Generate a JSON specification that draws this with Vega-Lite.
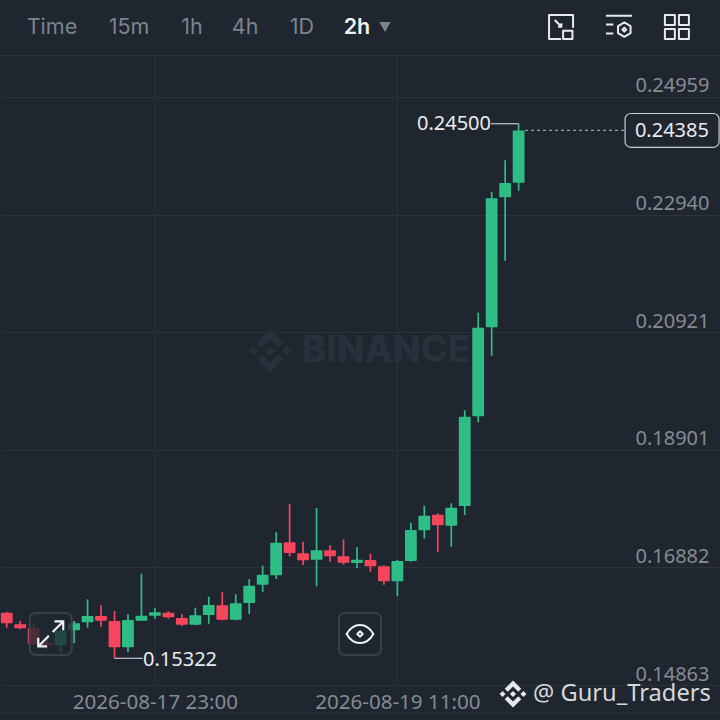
{
"$schema":"https://vega.github.io/schema/vega-lite/v6.json",
"width":720,"height":720,"padding":0,
"autosize":{"type":"none"},
"background":"#1F2630",
"config":{"view":{"stroke":null},"text":{"font":"Inter"}},
"datasets":{
"candles":[
{"t":"2026-08-17T01:00:00Z","open":0.16105,"high":0.16117,"low":0.15848,"close":0.15923,"dir":"down"},
{"t":"2026-08-17T03:00:00Z","open":0.15906,"high":0.15963,"low":0.1582,"close":0.15837,"dir":"down"},
{"t":"2026-08-17T05:00:00Z","open":0.15837,"high":0.15923,"low":0.15551,"close":0.15568,"dir":"down"},
{"t":"2026-08-17T07:00:00Z","open":0.15585,"high":0.15654,"low":0.15477,"close":0.15551,"dir":"down"},
{"t":"2026-08-17T09:00:00Z","open":0.15551,"high":0.15808,"low":0.15418,"close":0.15791,"dir":"up"},
{"t":"2026-08-17T11:00:00Z","open":0.15803,"high":0.15963,"low":0.1558,"close":0.15923,"dir":"up"},
{"t":"2026-08-17T13:00:00Z","open":0.1594,"high":0.16335,"low":0.15848,"close":0.16049,"dir":"up"},
{"t":"2026-08-17T15:00:00Z","open":0.16049,"high":0.16232,"low":0.15865,"close":0.15968,"dir":"down"},
{"t":"2026-08-17T17:00:00Z","open":0.15963,"high":0.16134,"low":0.15322,"close":0.15511,"dir":"down"},
{"t":"2026-08-17T19:00:00Z","open":0.15511,"high":0.16078,"low":0.15431,"close":0.1598,"dir":"up"},
{"t":"2026-08-17T21:00:00Z","open":0.15968,"high":0.16775,"low":0.15968,"close":0.16054,"dir":"up"},
{"t":"2026-08-17T23:00:00Z","open":0.16054,"high":0.16181,"low":0.16002,"close":0.16112,"dir":"up"},
{"t":"2026-08-18T01:00:00Z","open":0.16105,"high":0.16129,"low":0.16002,"close":0.16026,"dir":"down"},
{"t":"2026-08-18T03:00:00Z","open":0.16014,"high":0.16083,"low":0.15877,"close":0.15899,"dir":"down"},
{"t":"2026-08-18T05:00:00Z","open":0.15899,"high":0.16191,"low":0.15889,"close":0.16061,"dir":"up"},
{"t":"2026-08-18T07:00:00Z","open":0.16066,"high":0.1638,"low":0.15916,"close":0.16237,"dir":"up"},
{"t":"2026-08-18T09:00:00Z","open":0.16232,"high":0.16455,"low":0.15975,"close":0.15985,"dir":"down"},
{"t":"2026-08-18T11:00:00Z","open":0.15985,"high":0.16421,"low":0.15975,"close":0.16267,"dir":"up"},
{"t":"2026-08-18T13:00:00Z","open":0.16272,"high":0.16684,"low":0.16083,"close":0.16569,"dir":"up"},
{"t":"2026-08-18T15:00:00Z","open":0.16586,"high":0.16912,"low":0.16461,"close":0.16758,"dir":"up"},
{"t":"2026-08-18T17:00:00Z","open":0.16747,"high":0.17486,"low":0.16684,"close":0.17307,"dir":"up"},
{"t":"2026-08-18T19:00:00Z","open":0.17314,"high":0.17977,"low":0.17073,"close":0.1713,"dir":"down"},
{"t":"2026-08-18T21:00:00Z","open":0.17125,"high":0.17324,"low":0.16924,"close":0.17005,"dir":"down"},
{"t":"2026-08-18T23:00:00Z","open":0.17015,"high":0.17903,"low":0.16558,"close":0.17176,"dir":"up"},
{"t":"2026-08-19T01:00:00Z","open":0.17176,"high":0.17262,"low":0.16981,"close":0.17073,"dir":"down"},
{"t":"2026-08-19T03:00:00Z","open":0.17073,"high":0.17365,"low":0.16929,"close":0.16964,"dir":"down"},
{"t":"2026-08-19T05:00:00Z","open":0.16958,"high":0.17228,"low":0.16867,"close":0.17015,"dir":"up"},
{"t":"2026-08-19T07:00:00Z","open":0.1701,"high":0.17118,"low":0.16809,"close":0.16902,"dir":"down"},
{"t":"2026-08-19T09:00:00Z","open":0.16902,"high":0.16919,"low":0.16586,"close":0.16644,"dir":"down"},
{"t":"2026-08-19T11:00:00Z","open":0.16644,"high":0.1701,"low":0.16387,"close":0.16993,"dir":"up"},
{"t":"2026-08-19T13:00:00Z","open":0.16993,"high":0.1765,"low":0.16981,"close":0.17525,"dir":"up"},
{"t":"2026-08-19T15:00:00Z","open":0.1752,"high":0.17942,"low":0.17376,"close":0.1777,"dir":"up"},
{"t":"2026-08-19T17:00:00Z","open":0.17788,"high":0.17817,"low":0.17142,"close":0.17606,"dir":"down"},
{"t":"2026-08-19T19:00:00Z","open":0.17599,"high":0.17983,"low":0.17238,"close":0.17908,"dir":"up"},
{"t":"2026-08-19T21:00:00Z","open":0.17937,"high":0.1958,"low":0.17782,"close":0.1947,"dir":"up"},
{"t":"2026-08-19T23:00:00Z","open":0.19477,"high":0.21256,"low":0.19374,"close":0.20998,"dir":"up"},
{"t":"2026-08-20T01:00:00Z","open":0.21005,"high":0.23328,"low":0.20517,"close":0.2322,"dir":"up"},
{"t":"2026-08-20T03:00:00Z","open":0.23237,"high":0.23872,"low":0.22148,"close":0.23482,"dir":"up"},
{"t":"2026-08-20T05:00:00Z","open":0.23487,"high":0.245,"low":0.2335,"close":0.24385,"dir":"up"}
]
},
"encoding":{
"x":{"field":"t","type":"temporal","title":null,
"scale":{"type":"utc","domain":["2026-08-17T00:00:00Z","2026-08-21T10:54:00Z"],"nice":false,"padding":0},
"axis":{"orient":"bottom","values":[{"utc":true,"year":2026,"month":8,"date":17,"hours":23},{"utc":true,"year":2026,"month":8,"date":19,"hours":11}],"format":"%Y-%m-%d %H:%M","grid":false,"ticks":false,"domain":false,"labelPadding":-28,"labelFont":"Noto Sans","labelFontSize":20.6,"labelColor":"#858a93","labelOverlap":false,"labelFlush":false,"labelBound":false}},
"y":{"field":"p","type":"quantitative","title":null,
"scale":{"domain":[0.14263,0.26624],"nice":false,"zero":false},
"axis":{"orient":"right","values":[0.14863,0.16882,0.18901,0.20921,0.2294,0.24959],"format":".5f","grid":true,"gridColor":"#2C323C","gridWidth":1,"ticks":false,"domain":false,"labelAlign":"left","labelPadding":-85,"labelOffset":-11,"labelFont":"Noto Sans","labelFontSize":20,"labelColor":"#858a93","labelOverlap":false,"labelFlush":false,"labelBound":false}}
},
"layer":[
{"data":{"values":[{"t":"2026-08-17T00:00:00Z","t2":"2026-08-21T10:54:00Z","p":0.25671},{"t":"2026-08-17T00:00:00Z","t2":"2026-08-21T10:54:00Z","p":0.14383}]},
 "mark":{"type":"rule","color":"#2C323C","strokeWidth":1},
 "encoding":{"x2":{"field":"t2"}}},
{"data":{"values":[{"t":"2026-08-17T23:00:00Z","p":0.25671,"p2":0.14863},{"t":"2026-08-19T11:00:00Z","p":0.25671,"p2":0.14863}]},
 "mark":{"type":"rule","color":"#2C323C","strokeWidth":1},
 "encoding":{"y2":{"field":"p2"}}},
{"data":{"values":[{"label":"BINANCE","t":"2026-08-18T20:50:00Z","p":0.20595}]},
 "mark":{"type":"text","align":"left","baseline":"middle","font":"Inter","fontSize":36.5,"fontWeight":800,"color":"#2A303B"},
 "encoding":{"text":{"field":"label"}}},
{"data":{"values":[{"t":"2026-08-18T16:05:00Z","p":0.20598}]},
 "mark":{"type":"point","filled":true,"size":1849,"color":"#2A303B","opacity":1,"shape":"M-0.388,-0.16L0,-0.548L0.388,-0.16L0.614,-0.386L0,-1L-0.614,-0.386ZM-0.388,0.16L0,0.548L0.388,0.16L0.614,0.386L0,1L-0.614,0.386ZM-1,0L-0.774,-0.226L-0.548,0L-0.774,0.226ZM0.548,0L0.774,-0.226L1,0L0.774,0.226ZM0.228,0L0,-0.228L-0.228,0L0,0.228Z"}},
{"data":{"name":"candles"},
 "mark":{"type":"rule","strokeWidth":1.7},
 "encoding":{"y":{"field":"high","type":"quantitative","title":null,"scale":{"domain":[0.14263,0.26624],"nice":false,"zero":false}},"y2":{"field":"low"},
  "color":{"field":"dir","type":"nominal","legend":null,"scale":{"domain":["up","down"],"range":["#2EBD85","#F6465D"]}}}},
{"data":{"name":"candles"},
 "mark":{"type":"bar","size":11.8,"cornerRadius":1},
 "encoding":{"y":{"field":"open","type":"quantitative","title":null,"scale":{"domain":[0.14263,0.26624],"nice":false,"zero":false}},"y2":{"field":"close"},
  "color":{"field":"dir","type":"nominal","legend":null,"scale":{"domain":["up","down"],"range":["#2EBD85","#F6465D"]}}}},
{"data":{"values":[{"t":"2026-08-17T17:00:00Z","t2":"2026-08-17T21:12:00Z","p":0.15322},{"t":"2026-08-20T00:54:00Z","t2":"2026-08-20T05:00:00Z","p":0.245}]},
 "mark":{"type":"rule","color":"#C4C7CC","strokeWidth":1.2},
 "encoding":{"x2":{"field":"t2"}}},
{"data":{"values":[{"t":"2026-08-20T05:57:00Z","t2":"2026-08-20T20:48:00Z","p":0.24385}]},
 "mark":{"type":"rule","color":"#9A9EA5","strokeWidth":1.2,"strokeDash":[3,3]},
 "encoding":{"x2":{"field":"t2"}}},
{"data":{"values":[{"t":"2026-08-21T03:47:00Z","p":0.24385}]},
 "mark":{"type":"point","filled":false,"fill":"#1F2630","fillOpacity":1,"opacity":1,"stroke":"#C8CCD1","strokeWidth":1.2,"size":8836,"shape":"M-0.88,-0.36H0.88A0.12,0.12 0 0 1 1,-0.24V0.24A0.12,0.12 0 0 1 0.88,0.36H-0.88A0.12,0.12 0 0 1 -1,0.24V-0.24A0.12,0.12 0 0 1 -0.88,-0.36Z"}},
{"data":{"values":[{"t":"2026-08-17T07:32:00Z","p":0.1574},{"t":"2026-08-19T05:27:00Z","p":0.1574}]},
 "mark":{"type":"point","filled":false,"fill":"#1F2630","fillOpacity":0.78,"opacity":1,"stroke":"#3A404B","strokeWidth":2,"size":1764,"shape":"M-0.72,-1H0.72A0.28,0.28 0 0 1 1,-0.72V0.72A0.28,0.28 0 0 1 0.72,1H-0.72A0.28,0.28 0 0 1 -1,0.72V-0.72A0.28,0.28 0 0 1 -0.72,-1Z"}},
{"data":{"values":[{"t":"2026-08-17T07:32:00Z","p":0.1574}]},
 "mark":{"type":"point","filled":false,"opacity":1,"stroke":"#F0F1F3","strokeWidth":2.2,"size":625,"shape":"M0.15,-0.15L1,-1M0.3,-1H1V-0.3M-0.15,0.15L-1,1M-0.3,1H-1V0.3"}},
{"data":{"values":[{"t":"2026-08-19T05:27:00Z","p":0.1574}]},
 "mark":{"type":"point","filled":false,"opacity":1,"stroke":"#F0F1F3","strokeWidth":2,"size":713,"shape":"M-1,0C-0.5,-0.9 0.5,-0.9 1,0C0.5,0.9 -0.5,0.9 -1,0ZM0,-0.2L0.2,0L0,0.2L-0.2,0Z"}},
{"data":{"values":[{"label":"Time","t":"2026-08-17T07:43:00Z","p":0.26143},{"label":"15m","t":"2026-08-17T19:09:00Z","p":0.26143},{"label":"1h","t":"2026-08-18T04:30:00Z","p":0.26143},{"label":"4h","t":"2026-08-18T12:23:00Z","p":0.26143},{"label":"1D","t":"2026-08-18T20:50:00Z","p":0.26143}]},
 "mark":{"type":"text","align":"center","baseline":"middle","font":"Inter","fontSize":21.5,"color":"#7D838E"},
 "encoding":{"text":{"field":"label"}}},
{"data":{"values":[{"label":"2h","t":"2026-08-19T05:00:00Z","p":0.26143}]},
 "mark":{"type":"text","align":"center","baseline":"middle","font":"Inter","fontSize":21.5,"fontWeight":600,"color":"#F0F1F3"},
 "encoding":{"text":{"field":"label"}}},
{"data":{"values":[{"t":"2026-08-19T09:10:00Z","p":0.2616}]},
 "mark":{"type":"point","filled":true,"opacity":1,"shape":"triangle-down","size":130,"color":"#7D838E"}},
{"data":{"values":[{"t":"2026-08-20T11:18:00Z","p":0.2616}]},
 "mark":{"type":"point","filled":false,"opacity":1,"stroke":"#E8EAED","strokeWidth":2,"strokeJoin":"round","size":576,"shape":"M0,1H-1V-1H1V0.05M0.17,0.3H0.95V1H0.17ZM-0.53,-0.58L0.03,-0.03M-0.25,-0.03H0.03V-0.31"}},
{"data":{"values":[{"t":"2026-08-20T19:54:00Z","p":0.2616}]},
 "mark":{"type":"point","filled":false,"opacity":1,"stroke":"#E8EAED","strokeWidth":2,"strokeJoin":"round","size":676,"shape":"M-1,-0.87H1M-1,-0.2H-0.44M-1,0.5H-0.44M0.41,-0.35L0.89,-0.07V0.47L0.41,0.75L-0.07,0.47V-0.07ZM0.41,0.05L0.56,0.2L0.41,0.35L0.26,0.2Z"}},
{"data":{"values":[{"t":"2026-08-21T04:30:00Z","p":0.2616}]},
 "mark":{"type":"point","filled":false,"opacity":1,"stroke":"#E8EAED","strokeWidth":2,"strokeJoin":"round","size":576,"shape":"M-1,-1H-0.17V-0.17H-1ZM0.17,-1H1V-0.17H0.17ZM-1,0.17H-0.17V1H-1ZM0.17,0.17H1V1H0.17Z"}},
{"data":{"values":[{"label":"0.15322","t":"2026-08-17T21:14:00Z","p":0.15293},{"label":"0.24385","t":"2026-08-20T22:16:00Z","p":0.24367}]},
 "mark":{"type":"text","align":"left","baseline":"middle","font":"Noto Sans","fontSize":20,"color":"#E9EBEE"},
 "encoding":{"text":{"field":"label"}}},
{"data":{"values":[{"label":"0.24500","t":"2026-08-20T00:54:00Z","p":0.24495}]},
 "mark":{"type":"text","align":"right","baseline":"middle","font":"Noto Sans","fontSize":20,"color":"#E9EBEE"},
 "encoding":{"text":{"field":"label"}}},
{"data":{"values":[{"t":"2026-08-20T04:10:00Z","p":0.14709}]},
 "mark":{"type":"point","filled":true,"opacity":1,"size":729,"color":"#E6E7E9","shape":"M-0.388,-0.16L0,-0.548L0.388,-0.16L0.614,-0.386L0,-1L-0.614,-0.386ZM-0.388,0.16L0,0.548L0.388,0.16L0.614,0.386L0,1L-0.614,0.386ZM-1,0L-0.774,-0.226L-0.548,0L-0.774,0.226ZM0.548,0L0.774,-0.226L1,0L0.774,0.226ZM0.228,0L0,-0.228L-0.228,0L0,0.228Z"}},
{"data":{"values":[{"label":"@ Guru_Traders","t":"2026-08-20T07:08:00Z","p":0.14709}]},
 "mark":{"type":"text","align":"left","baseline":"middle","font":"Noto Sans","fontSize":23.7,"color":"#D5D7DA"},
 "encoding":{"text":{"field":"label"}}}
]
}
